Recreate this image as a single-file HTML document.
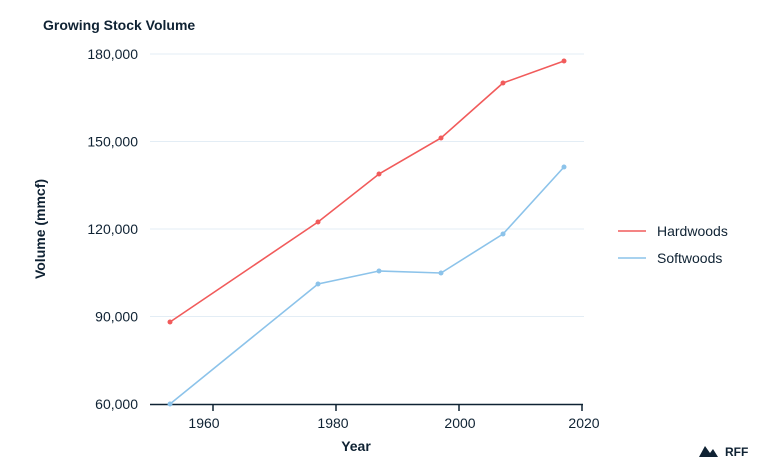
<!DOCTYPE html>
<html><head><style>body{margin:0;background:#fff}</style></head><body>
<svg width="760" height="470" xmlns="http://www.w3.org/2000/svg" font-family="Liberation Sans, sans-serif">
<rect width="760" height="470" fill="#fff"/>
<text x="43" y="30" font-size="14" font-weight="bold" fill="#0f2233">Growing Stock Volume</text>
<g stroke="#e3edf5" stroke-width="1">
<line x1="150" y1="54" x2="584" y2="54"/><line x1="150" y1="141.5" x2="584" y2="141.5"/>
<line x1="150" y1="229" x2="584" y2="229"/><line x1="150" y1="316.5" x2="584" y2="316.5"/>
</g>
<line x1="150" y1="404.5" x2="583" y2="404.5" stroke="#0f2233" stroke-width="1.5"/>
<g stroke="#0f2233" stroke-width="1.5">
<line x1="213" y1="404" x2="213" y2="411"/><line x1="336" y1="404" x2="336" y2="411"/>
<line x1="459" y1="404" x2="459" y2="411"/><line x1="582" y1="404" x2="582" y2="411"/>
</g>
<g font-size="14" fill="#0f2233" text-anchor="end">
<text x="138" y="59">180,000</text><text x="138" y="146.5">150,000</text>
<text x="138" y="234">120,000</text><text x="138" y="321.5">90,000</text><text x="138" y="409">60,000</text>
</g>
<g font-size="14" fill="#0f2233" text-anchor="middle">
<text x="204" y="428">1960</text><text x="333" y="428">1980</text>
<text x="460" y="428">2000</text><text x="584" y="428">2020</text>
</g>
<text x="356" y="451" font-size="14" font-weight="bold" fill="#0f2233" text-anchor="middle">Year</text>
<text transform="translate(45,229) rotate(-90)" font-size="14" font-weight="bold" fill="#0f2233" text-anchor="middle">Volume (mmcf)</text>
<polyline fill="none" stroke="#f15b5b" stroke-width="1.6" points="170,322 318,222 379,174 441,138 503,83 564,61"/>
<g fill="#f15b5b"><circle cx="170" cy="322" r="2.5"/><circle cx="318" cy="222" r="2.5"/><circle cx="379" cy="174" r="2.5"/><circle cx="441" cy="138" r="2.5"/><circle cx="503" cy="83" r="2.5"/><circle cx="564" cy="61" r="2.5"/></g>
<polyline fill="none" stroke="#8cc3ea" stroke-width="1.6" points="170,404 318,284 379,271 441,273 503,234 564,167"/>
<g fill="#8cc3ea"><circle cx="170" cy="404" r="2.5"/><circle cx="318" cy="284" r="2.5"/><circle cx="379" cy="271" r="2.5"/><circle cx="441" cy="273" r="2.5"/><circle cx="503" cy="234" r="2.5"/><circle cx="564" cy="167" r="2.5"/></g>
<line x1="618" y1="231" x2="646" y2="231" stroke="#f15b5b" stroke-width="1.6"/>
<text x="657" y="236" font-size="14" fill="#0f2233">Hardwoods</text>
<line x1="618" y1="258" x2="646" y2="258" stroke="#8cc3ea" stroke-width="1.6"/>
<text x="657" y="263" font-size="14" fill="#0f2233">Softwoods</text>
<polygon points="699,457 705,446 710,453 713,449 718,457" fill="#0f2233"/>
<text x="725" y="456" font-size="12" font-weight="bold" fill="#0f2233">RFF</text>
</svg>
</body></html>
